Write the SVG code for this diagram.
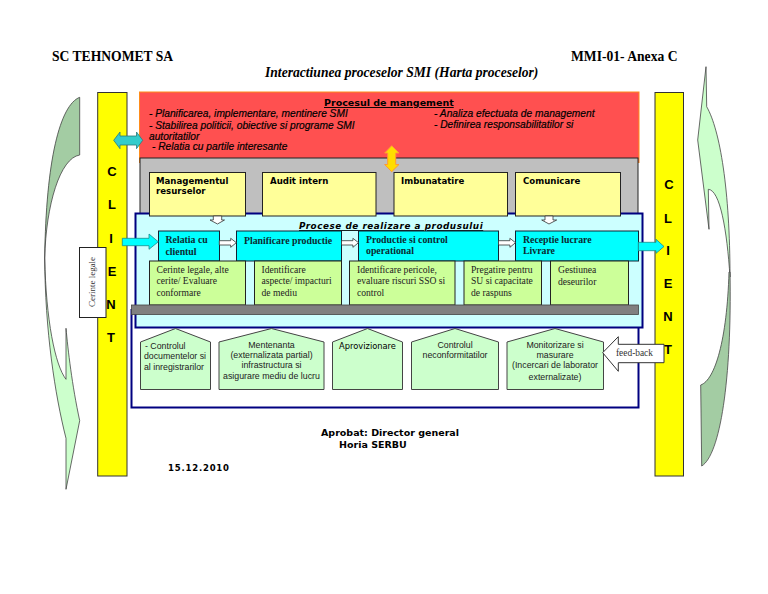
<svg xmlns="http://www.w3.org/2000/svg" width="768" height="594" viewBox="0 0 768 594">
<style>
text{fill:#000}
.hd{font:bold 13.600px "Liberation Serif",serif}
.cl{font:bold 13px "Liberation Sans",sans-serif;text-anchor:middle}
.rd{font:italic 10.200px "Liberation Sans",sans-serif;stroke:#000;stroke-width:.2}
.dv{font:bold 8.600px "DejaVu Sans",sans-serif}
.cy{font:bold 9.800px "Liberation Serif",serif;fill:#0a2a30}
.gr{font:9.600px "Liberation Serif",serif;fill:#222}
.pe{font:8.800px "Liberation Sans",sans-serif;text-anchor:middle;fill:#222}
.bar{fill:#ff0;stroke:#333;stroke-width:1}
.ye{fill:#ffff99;stroke:#222;stroke-width:1}
.cb{fill:#0ff;stroke:#123;stroke-width:1}
.gb{fill:#ccff99;stroke:#222;stroke-width:1}
.pt{fill:#ccffcc;stroke:#444;stroke-width:1}
.wa{fill:#fff;stroke:#333;stroke-width:.8}
.lg{fill:#ccffcc;stroke:#444;stroke-width:.8}
.dg{fill:#a3cca3;stroke:#444;stroke-width:.8}
</style>
<g id="header">
<text class="hd" x="52" y="61">SC TEHNOMET SA</text>
<text class="hd" x="571" y="61">MMI-01- Anexa C</text>
<text x="265" y="77" style="font:italic bold 13.600px 'Liberation Serif',serif">Interactiunea proceselor SMI (Harta proceselor)</text>
</g>
<g id="swooshes">
<path class="dg" d="M79.700 97.300C60 105 46 160 44.700 258C46 205 60 158 79.700 155Z"/>
<path class="lg" d="M44.700 258C45 330 55 395 66 438.300V489.300L79.700 420.700C72 385 68 350 66 328.300V379.300C55 365 46 320 44.700 258Z"/>
<path class="lg" d="M706 66.700L706.700 106.700C720 130 730 190 730 277C727 230 720 190 708.300 189.300L709 229.300L697.700 140Z"/>
<path class="dg" d="M730 272C732 380 720 455 701.700 466L700.700 385C715 380 727 340 729 272Z"/>
</g>
<g id="client-left"><rect class="bar" x="97.700" y="92.500" width="29.300" height="383.500"/>
<text class="cl" x="112" y="176">C</text><text class="cl" x="112" y="209">L</text><text class="cl" x="111" y="243">I</text><text class="cl" x="112" y="276">E</text><text class="cl" x="111" y="309">N</text><text class="cl" x="111" y="342">T</text></g>
<g id="client-right"><rect class="bar" x="655" y="92.500" width="28.500" height="383.500"/>
<text class="cl" x="669" y="189">C</text><text class="cl" x="668" y="223">L</text><text class="cl" x="668" y="255">I</text><text class="cl" x="668" y="288">E</text><text class="cl" x="668" y="321">N</text><text class="cl" x="668" y="354">T</text></g>
<g id="management">
<rect x="139.500" y="92" width="499.500" height="70.500" fill="#ff5050" stroke="#ff8c1a" stroke-width="1"/>
<rect x="140" y="158" width="498" height="58" fill="#bfbfbf" stroke="#222" stroke-width="1"/>
<text x="324" y="106" style="font:bold 9.500px 'DejaVu Sans',sans-serif;text-decoration:underline">Procesul de mangement</text>
<text class="rd" x="149" y="117">- Planificarea, implementare, mentinere SMI</text>
<text class="rd" x="149" y="129">- Stabilirea politicii, obiective si programe SMI</text>
<text class="rd" x="149" y="140">autoritatilor</text>
<text class="rd" x="152" y="150">- Relatia cu partile interesante</text>
<text class="rd" x="434" y="117">- Analiza efectuata de management</text>
<text class="rd" x="434" y="128">- Definirea responsabilitatilor si</text>
</g>
<g id="realization">
<rect x="131.500" y="310" width="507" height="97.500" fill="#fff" stroke="#000080" stroke-width="2"/>
<rect x="135.500" y="213.500" width="507" height="114" fill="#ccffff" stroke="#000080" stroke-width="2"/>
<text x="299" y="229" style="font:italic bold 8.800px 'DejaVu Sans',sans-serif;letter-spacing:.55px;text-decoration:underline">Procese de realizare a produsului</text>
</g>
<g id="n-resurse"><rect class="ye" x="149.500" y="172.500" width="96" height="43.500"/><text class="dv" x="156" y="184">Managementul</text><text class="dv" x="156" y="194">resurselor</text></g>
<g id="n-audit"><rect class="ye" x="262.500" y="172.500" width="113.500" height="43.500"/><text class="dv" x="270" y="184">Audit intern</text></g>
<g id="n-imbunatatire"><rect class="ye" x="394" y="172.500" width="113.500" height="43.500"/><text class="dv" x="401" y="184">Imbunatatire</text></g>
<g id="n-comunicare"><rect class="ye" x="515.500" y="172.500" width="105" height="43.500"/><text class="dv" x="523" y="184">Comunicare</text></g>
<g id="n-relatia"><rect class="cb" x="158.500" y="231" width="61" height="30"/><text class="cy" x="165.500" y="243">Relatia cu</text><text class="cy" x="165.500" y="255">clientul</text></g>
<g id="n-planificare"><rect class="cb" x="236.500" y="231" width="105" height="30"/><text class="cy" x="244" y="244">Planificare productie</text></g>
<g id="n-productie"><rect class="cb" x="358.500" y="231" width="140" height="30"/><text class="cy" x="366" y="243">Productie si control</text><text class="cy" x="366" y="254">operational</text></g>
<g id="n-receptie"><rect class="cb" x="515.500" y="231" width="123" height="30"/><text class="cy" x="523" y="243">Receptie lucrare</text><text class="cy" x="523" y="254">Livrare</text></g>
<g id="n-cerinte"><rect class="gb" x="149.500" y="261" width="96" height="44"/><text class="gr" x="156.500" y="273">Cerinte legale, alte</text><text class="gr" x="156.500" y="284">cerite/ Evaluare</text><text class="gr" x="156.500" y="296">conformare</text></g>
<g id="n-aspecte"><rect class="gb" x="254.500" y="261" width="87" height="44"/><text class="gr" x="261.500" y="273">Identificare</text><text class="gr" x="261.500" y="284">aspecte/ impacturi</text><text class="gr" x="261.500" y="296">de mediu</text></g>
<g id="n-pericole"><rect class="gb" x="349.500" y="261" width="105.500" height="44"/><text class="gr" x="357" y="273">Identificare pericole,</text><text class="gr" x="357" y="284">evaluare riscuri SSO si</text><text class="gr" x="357" y="296">control</text></g>
<g id="n-su"><rect class="gb" x="464" y="261" width="77.500" height="44"/><text class="gr" x="471" y="273">Pregatire pentru</text><text class="gr" x="471" y="284">SU si capacitate</text><text class="gr" x="471" y="296">de raspuns</text></g>
<g id="n-deseuri"><rect class="gb" x="550.500" y="261" width="78" height="44"/><text class="gr" x="558" y="273">Gestiunea</text><text class="gr" x="558" y="285">deseurilor</text></g>
<g id="base-bar"><rect x="131.500" y="305" width="507" height="9.500" fill="#808080" stroke="#444" stroke-width=".8"/></g>
<g id="n-documente"><path class="pt" d="M140.500 342L175.500 328.500L210.500 342V389.500H140.500Z"/><text class="pe" x="145" y="349" style="text-anchor:start">- Controlul</text><text class="pe" x="175" y="359">documentelor si</text><text class="pe" x="174" y="370">al inregistrarilor</text></g>
<g id="n-mentenanta"><path class="pt" d="M219 342L271.500 328.500L324 342V389.500H219Z"/><text class="pe" x="271.500" y="348">Mentenanta</text><text class="pe" x="271.500" y="358">(externalizata partial)</text><text class="pe" x="271.500" y="368">infrastructura si</text><text class="pe" x="271.500" y="379">asigurare mediu de lucru</text></g>
<g id="n-aprovizionare"><path class="pt" d="M332.500 342L367.500 328.500L402.500 342V389.500H332.500Z"/><text x="367.500" y="349" text-anchor="middle" style="font:8.300px 'DejaVu Sans',sans-serif">Aprovizionare</text></g>
<g id="n-control"><path class="pt" d="M411.500 342L455 328.500L498.500 342V389.500H411.500Z"/><text class="pe" x="455" y="348">Controlul</text><text class="pe" x="455" y="358">neconformitatilor</text></g>
<g id="n-monitorizare"><path class="pt" d="M507 342L555 328.500L603.500 342V389.500H507Z"/><text class="pe" x="555" y="348">Monitorizare si</text><text class="pe" x="555" y="358">masurare</text><text class="pe" x="555" y="368">(Incercari de laborator</text><text class="pe" x="555" y="380">externalizate)</text></g>
<g id="n-cerinte-legale"><rect x="79.500" y="247.500" width="26.500" height="70" fill="#fff" stroke="#222"/><text transform="translate(95 282) rotate(-90)" text-anchor="middle" style="font:9px 'Liberation Serif',serif;fill:#333">Cerinte legale</text></g>
<g id="connectors">
<path d="M113.700 140.300L120 132V136H136.500V132L142.700 140.300L136.500 148.700V145H120V148.700Z" fill="#33cccc" stroke="#2a7a7a" stroke-width=".8"/>
<path d="M391.700 145.700L399 153H395.700V164.500H399L391.700 171.700L384.700 164.500H387.700V153H384.700Z" fill="#ffdd00" stroke="#ff9933" stroke-width="1"/>
<path class="wa" d="M213.300 216H221.700V220H224.500L217.500 224L210 220H213.300Z"/>
<path class="wa" d="M545 216H553V220H556.700L549 224L541.700 220H545Z"/>
<path class="wa" d="M219.300 240.700H230.700V238.300L236.300 242.700L230.700 247.300V245H219.300Z"/>
<path class="wa" d="M341.500 240.700H352.900V238.300L358.500 242.700L352.900 247.300V245H341.500Z"/>
<path class="wa" d="M498.500 240.700H509.900V238.300L515.500 242.700L509.900 247.300V245H498.500Z"/>
<path d="M122.300 238.300H149V234L158.300 241.800L149 249.300V245.700H122.300Z" fill="#0ff" stroke="#1a8a8a" stroke-width=".8"/>
<path d="M638.300 242.300H656V239.300L664 246.500L656 253.300V250.700H638.300Z" fill="#0ff" stroke="#1a8a8a" stroke-width=".8"/>
<path d="M602.700 352.700L618.300 336.700V344.300H664V362.700H618.300V371.300Z" fill="#fff" stroke="#333" stroke-width="1"/>
<text x="616" y="356" style="font:9.400px 'Liberation Serif',serif;fill:#333">feed-back</text>
</g>
<g id="footer">
<text x="321" y="436" style="font:bold 9.500px 'DejaVu Sans',sans-serif">Aprobat: Director general</text>
<text x="339" y="448" style="font:bold 9.500px 'DejaVu Sans',sans-serif">Horia SERBU</text>
<text x="168" y="471" style="font:bold 8.500px 'DejaVu Sans',sans-serif;letter-spacing:.8px">15.12.2010</text>
</g>
</svg>
